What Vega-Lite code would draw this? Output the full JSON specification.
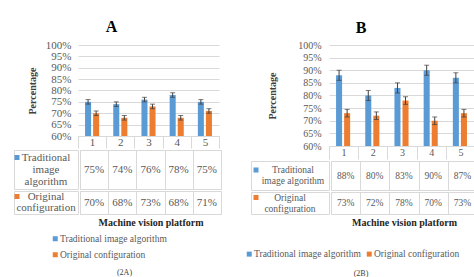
{
  "$schema": "https://vega.github.io/schema/vega-lite/v6.json",
  "padding": {"left": 13, "top": 19, "right": 0, "bottom": 0},
  "background": "#ffffff",
  "config": {
    "font": "Liberation Serif",
    "view": {"stroke": null},
    "axis": {"labelFont": "Liberation Serif", "titleFont": "Liberation Serif", "labelColor": "#595959", "titleColor": "#404040"},
    "legend": {"labelFont": "Liberation Serif", "labelColor": "#595959"},
    "title": {"font": "Liberation Serif"},
    "text": {"font": "Liberation Serif"}
  },
  "datasets": {
    "a": [
      {"platform": "1", "series": "Traditional image algorithm", "value": 0.75, "lo": 0.74, "hi": 0.76},
      {"platform": "2", "series": "Traditional image algorithm", "value": 0.74, "lo": 0.73, "hi": 0.75},
      {"platform": "3", "series": "Traditional image algorithm", "value": 0.76, "lo": 0.75, "hi": 0.77},
      {"platform": "4", "series": "Traditional image algorithm", "value": 0.78, "lo": 0.77, "hi": 0.79},
      {"platform": "5", "series": "Traditional image algorithm", "value": 0.75, "lo": 0.74, "hi": 0.76},
      {"platform": "1", "series": "Original configuration", "value": 0.70, "lo": 0.69, "hi": 0.71},
      {"platform": "2", "series": "Original configuration", "value": 0.68, "lo": 0.67, "hi": 0.69},
      {"platform": "3", "series": "Original configuration", "value": 0.73, "lo": 0.72, "hi": 0.74},
      {"platform": "4", "series": "Original configuration", "value": 0.68, "lo": 0.67, "hi": 0.69},
      {"platform": "5", "series": "Original configuration", "value": 0.71, "lo": 0.70, "hi": 0.72}
    ],
    "b": [
      {"platform": "1", "series": "Traditional image algorithm", "value": 0.88, "lo": 0.86, "hi": 0.90},
      {"platform": "2", "series": "Traditional image algorithm", "value": 0.80, "lo": 0.78, "hi": 0.82},
      {"platform": "3", "series": "Traditional image algorithm", "value": 0.83, "lo": 0.81, "hi": 0.85},
      {"platform": "4", "series": "Traditional image algorithm", "value": 0.90, "lo": 0.88, "hi": 0.92},
      {"platform": "5", "series": "Traditional image algorithm", "value": 0.87, "lo": 0.85, "hi": 0.89},
      {"platform": "1", "series": "Original configuration", "value": 0.73, "lo": 0.715, "hi": 0.745},
      {"platform": "2", "series": "Original configuration", "value": 0.72, "lo": 0.705, "hi": 0.735},
      {"platform": "3", "series": "Original configuration", "value": 0.78, "lo": 0.765, "hi": 0.795},
      {"platform": "4", "series": "Original configuration", "value": 0.70, "lo": 0.685, "hi": 0.715},
      {"platform": "5", "series": "Original configuration", "value": 0.73, "lo": 0.715, "hi": 0.745}
    ]
  },
  "spacing": 22,
  "resolve": {"scale": {"color": "independent"}},
  "hconcat": [
    {
      "spacing": 0,
      "title": {"text": "(2A)", "orient": "bottom", "anchor": "middle", "font": "Liberation Serif", "fontSize": 8, "fontWeight": "normal", "color": "#404040", "dx": 7, "offset": 9},
      "vconcat": [
        {
          "bounds": "flush",
          "spacing": 0,
          "hconcat": [
            {"width": 64, "height": 91, "data": {"values": [{}]}, "mark": "text", "encoding": {"text": {"value": ""}}},
            {
              "width": 141, "height": 91,
              "data": {"name": "a"},
              "title": {"text": "A", "font": "Liberation Serif", "fontSize": 16, "fontWeight": "bold", "color": "#000000", "frame": "group", "anchor": "middle", "dx": -37, "offset": -9, "baseline": "alphabetic"},
              "encoding": {
                "x": {"field": "platform", "type": "ordinal", "scale": {"paddingInner": 0, "paddingOuter": 0},
                      "axis": {"orient": "bottom", "title": null, "labelAngle": 0, "labelFontSize": 11, "labelBaseline": "middle", "labelPadding": -6, "tickBand": "extent", "tickSize": 12, "tickColor": "#d9d9d9", "domainColor": "#d9d9d9", "grid": false}},
                "xOffset": {"field": "series", "type": "nominal", "sort": ["Traditional image algorithm", "Original configuration"], "scale": {"paddingInner": 0.25, "paddingOuter": 0.875}}
              },
              "layer": [
                {
                  "mark": {"type": "bar"},
                  "encoding": {
                    "y": {"field": "value", "type": "quantitative", "scale": {"domain": [0.6, 1], "zero": false, "nice": false},
                          "axis": {"values": [0.6, 0.65, 0.7, 0.75, 0.8, 0.85, 0.9, 0.95, 1], "format": ".0%", "labelOverlap": false, "grid": true, "gridColor": "#d9d9d9", "domain": false, "ticks": false, "labelPadding": 7, "labelFontSize": 11, "title": "Percentage", "titleFontSize": 10, "titleFontWeight": "bold", "titlePadding": 8}},
                    "y2": {"datum": 0.6},
                    "color": {"field": "series", "type": "nominal",
                              "scale": {"domain": ["Traditional image algorithm", "Original configuration"], "range": ["#5B9BD5", "#ED7D31"]},
                              "legend": {"orient": "none", "legendX": 36.5, "legendY": 189, "direction": "vertical", "title": null, "symbolType": "square", "symbolSize": 25, "symbolStrokeWidth": 0, "labelFont": "Liberation Serif", "labelFontSize": 9.5, "labelColor": "#595959", "rowPadding": 5, "labelOffset": 0}}
                  }
                },
                {"mark": {"type": "rule", "color": "#404040", "strokeWidth": 1},
                 "encoding": {"y": {"field": "lo", "type": "quantitative", "scale": {"domain": [0.6, 1], "zero": false, "nice": false},
                                    "axis": {"values": [0.6, 0.65, 0.7, 0.75, 0.8, 0.85, 0.9, 0.95, 1], "format": ".0%", "labelOverlap": false, "grid": true, "gridColor": "#d9d9d9", "domain": false, "ticks": false, "labelPadding": 7, "labelFontSize": 11, "title": "Percentage", "titleFontSize": 10, "titleFontWeight": "bold", "titlePadding": 8}},
                              "y2": {"field": "hi"}}},
                {"mark": {"type": "tick", "color": "#404040", "thickness": 1, "size": 5},
                 "encoding": {"y": {"field": "lo", "type": "quantitative", "scale": {"domain": [0.6, 1], "zero": false, "nice": false},
                                    "axis": {"values": [0.6, 0.65, 0.7, 0.75, 0.8, 0.85, 0.9, 0.95, 1], "format": ".0%", "labelOverlap": false, "grid": true, "gridColor": "#d9d9d9", "domain": false, "ticks": false, "labelPadding": 7, "labelFontSize": 11, "title": "Percentage", "titleFontSize": 10, "titleFontWeight": "bold", "titlePadding": 8}}}},
                {"mark": {"type": "tick", "color": "#404040", "thickness": 1, "size": 5},
                 "encoding": {"y": {"field": "hi", "type": "quantitative", "scale": {"domain": [0.6, 1], "zero": false, "nice": false},
                                    "axis": {"values": [0.6, 0.65, 0.7, 0.75, 0.8, 0.85, 0.9, 0.95, 1], "format": ".0%", "labelOverlap": false, "grid": true, "gridColor": "#d9d9d9", "domain": false, "ticks": false, "labelPadding": 7, "labelFontSize": 11, "title": "Percentage", "titleFontSize": 10, "titleFontWeight": "bold", "titlePadding": 8}}}}
              ]
            }
          ]
        },
        {
          "spacing": 0,
          "hconcat": [
            {
              "width": 64, "height": 39, "view": {"stroke": "#d9d9d9"},
              "data": {"name": "a"},
              "transform": [{"filter": "datum.series === 'Traditional image algorithm' && datum.platform === '1'"}],
              "layer": [
                {"mark": {"type": "text", "font": "Liberation Serif", "lineBreak": " ", "fontSize": 11, "lineHeight": 12, "dy": -12, "color": "#595959"},
                 "encoding": {"text": {"field": "series", "type": "nominal"}}},
                {"mark": {"type": "square", "size": 25, "opacity": 1, "xOffset": -29, "yOffset": -12},
                 "encoding": {"color": {"field": "series", "type": "nominal", "scale": {"domain": ["Traditional image algorithm", "Original configuration"], "range": ["#5B9BD5", "#ED7D31"]}}}}
              ]
            },
            {
              "width": 141, "height": 39, "view": {"stroke": "#d9d9d9"},
              "data": {"name": "a"},
              "transform": [{"filter": "datum.series === 'Traditional image algorithm'"}],
              "mark": {"type": "text", "font": "Liberation Serif", "fontSize": 11, "color": "#595959"},
              "encoding": {
                "x": {"field": "platform", "type": "ordinal", "scale": {"paddingInner": 0, "paddingOuter": 0},
                      "axis": {"title": null, "labels": false, "ticks": false, "domain": false, "grid": true, "gridColor": "#d9d9d9", "tickBand": "extent"}},
                "text": {"field": "value", "type": "quantitative", "format": ".0%"}
              }
            }
          ]
        },
        {
          "spacing": 0,
          "hconcat": [
            {
              "width": 64, "height": 23, "view": {"stroke": "#d9d9d9"},
              "data": {"name": "a"},
              "transform": [{"filter": "datum.series === 'Original configuration' && datum.platform === '1'"}],
              "layer": [
                {"mark": {"type": "text", "font": "Liberation Serif", "lineBreak": " ", "fontSize": 11, "lineHeight": 11.5, "dy": -5.75, "color": "#595959"},
                 "encoding": {"text": {"field": "series", "type": "nominal"}}},
                {"mark": {"type": "square", "size": 25, "opacity": 1, "xOffset": -29, "yOffset": -6},
                 "encoding": {"color": {"field": "series", "type": "nominal", "scale": {"domain": ["Traditional image algorithm", "Original configuration"], "range": ["#5B9BD5", "#ED7D31"]}}}}
              ]
            },
            {
              "width": 141, "height": 23, "view": {"stroke": "#d9d9d9"},
              "data": {"name": "a"},
              "transform": [{"filter": "datum.series === 'Original configuration'"}],
              "mark": {"type": "text", "font": "Liberation Serif", "fontSize": 11, "color": "#595959"},
              "encoding": {
                "x": {"field": "platform", "type": "ordinal", "scale": {"paddingInner": 0, "paddingOuter": 0},
                      "axis": {"title": "Machine vision platform", "titleFontSize": 10, "titleFontWeight": "bold", "titleColor": "#262626", "titlePadding": 3, "labels": false, "ticks": false, "domain": false, "grid": true, "gridColor": "#d9d9d9", "tickBand": "extent"}},
                "text": {"field": "value", "type": "quantitative", "format": ".0%"}
              }
            }
          ]
        }
      ]
    },
    {
      "spacing": 0,
      "title": {"text": "(2B)", "orient": "bottom", "anchor": "middle", "font": "Liberation Serif", "fontSize": 8, "fontWeight": "normal", "color": "#404040", "offset": 11},
      "vconcat": [
        {
          "bounds": "flush",
          "spacing": 0,
          "hconcat": [
            {"width": 78, "height": 101, "data": {"values": [{}]}, "mark": "text", "encoding": {"text": {"value": ""}}},
            {
              "width": 146, "height": 101,
              "data": {"name": "b"},
              "title": {"text": "B", "font": "Liberation Serif", "fontSize": 16, "fontWeight": "bold", "color": "#000000", "frame": "group", "anchor": "middle", "dx": -41, "offset": -9, "baseline": "alphabetic"},
              "encoding": {
                "x": {"field": "platform", "type": "ordinal", "scale": {"paddingInner": 0, "paddingOuter": 0},
                      "axis": {"orient": "bottom", "title": null, "labelAngle": 0, "labelFontSize": 10, "labelBaseline": "middle", "labelPadding": -6.5, "tickBand": "extent", "tickSize": 13, "tickColor": "#d9d9d9", "domainColor": "#d9d9d9", "grid": false}},
                "xOffset": {"field": "series", "type": "nominal", "sort": ["Traditional image algorithm", "Original configuration"], "scale": {"paddingInner": 0.22, "paddingOuter": 0.73}}
              },
              "layer": [
                {
                  "mark": {"type": "bar"},
                  "encoding": {
                    "y": {"field": "value", "type": "quantitative", "scale": {"domain": [0.6, 1], "zero": false, "nice": false},
                          "axis": {"values": [0.6, 0.65, 0.7, 0.75, 0.8, 0.85, 0.9, 0.95, 1], "format": ".0%", "labelOverlap": false, "grid": true, "gridColor": "#d9d9d9", "domain": false, "ticks": false, "labelPadding": 8, "labelFontSize": 10, "title": "Percentage", "titleFontSize": 10, "titleFontWeight": "bold", "titlePadding": 20}},
                    "y2": {"datum": 0.6},
                    "color": {"field": "series", "type": "nominal",
                              "scale": {"domain": ["Traditional image algorithm", "Original configuration"], "range": ["#5B9BD5", "#ED7D31"]},
                              "legend": {"orient": "none", "legendX": -6.5, "legendY": 204, "direction": "horizontal", "title": null, "symbolType": "square", "symbolSize": 25, "symbolStrokeWidth": 0, "labelFont": "Liberation Serif", "labelFontSize": 9.5, "labelColor": "#595959", "columnPadding": 3, "labelOffset": 0}}
                  }
                },
                {"mark": {"type": "rule", "color": "#404040", "strokeWidth": 1},
                 "encoding": {"y": {"field": "lo", "type": "quantitative", "scale": {"domain": [0.6, 1], "zero": false, "nice": false},
                                    "axis": {"values": [0.6, 0.65, 0.7, 0.75, 0.8, 0.85, 0.9, 0.95, 1], "format": ".0%", "labelOverlap": false, "grid": true, "gridColor": "#d9d9d9", "domain": false, "ticks": false, "labelPadding": 8, "labelFontSize": 10, "title": "Percentage", "titleFontSize": 10, "titleFontWeight": "bold", "titlePadding": 20}},
                              "y2": {"field": "hi"}}},
                {"mark": {"type": "tick", "color": "#404040", "thickness": 1, "size": 5},
                 "encoding": {"y": {"field": "lo", "type": "quantitative", "scale": {"domain": [0.6, 1], "zero": false, "nice": false},
                                    "axis": {"values": [0.6, 0.65, 0.7, 0.75, 0.8, 0.85, 0.9, 0.95, 1], "format": ".0%", "labelOverlap": false, "grid": true, "gridColor": "#d9d9d9", "domain": false, "ticks": false, "labelPadding": 8, "labelFontSize": 10, "title": "Percentage", "titleFontSize": 10, "titleFontWeight": "bold", "titlePadding": 20}}}},
                {"mark": {"type": "tick", "color": "#404040", "thickness": 1, "size": 5},
                 "encoding": {"y": {"field": "hi", "type": "quantitative", "scale": {"domain": [0.6, 1], "zero": false, "nice": false},
                                    "axis": {"values": [0.6, 0.65, 0.7, 0.75, 0.8, 0.85, 0.9, 0.95, 1], "format": ".0%", "labelOverlap": false, "grid": true, "gridColor": "#d9d9d9", "domain": false, "ticks": false, "labelPadding": 8, "labelFontSize": 10, "title": "Percentage", "titleFontSize": 10, "titleFontWeight": "bold", "titlePadding": 20}}}}
              ]
            }
          ]
        },
        {
          "spacing": 0,
          "hconcat": [
            {
              "width": 78, "height": 29, "view": {"stroke": "#d9d9d9"},
              "data": {"name": "b"},
              "transform": [
                {"filter": "datum.series === 'Traditional image algorithm' && datum.platform === '1'"},
                {"calculate": "[slice(datum.series, 0, indexof(datum.series, ' ')), slice(datum.series, indexof(datum.series, ' ') + 1)]", "as": "lines"}
              ],
              "layer": [
                {"mark": {"type": "text", "font": "Liberation Serif", "fontSize": 9.5, "lineHeight": 11, "dy": -5.5, "color": "#595959", "dx": 3},
                 "encoding": {"text": {"field": "lines", "type": "nominal"}}},
                {"mark": {"type": "square", "size": 25, "opacity": 1, "xOffset": -34, "yOffset": -5.5},
                 "encoding": {"color": {"field": "series", "type": "nominal", "scale": {"domain": ["Traditional image algorithm", "Original configuration"], "range": ["#5B9BD5", "#ED7D31"]}}}}
              ]
            },
            {
              "width": 146, "height": 29, "view": {"stroke": "#d9d9d9"},
              "data": {"name": "b"},
              "transform": [{"filter": "datum.series === 'Traditional image algorithm'"}],
              "mark": {"type": "text", "font": "Liberation Serif", "fontSize": 9.5, "color": "#595959"},
              "encoding": {
                "x": {"field": "platform", "type": "ordinal", "scale": {"paddingInner": 0, "paddingOuter": 0},
                      "axis": {"title": null, "labels": false, "ticks": false, "domain": false, "grid": true, "gridColor": "#d9d9d9", "tickBand": "extent"}},
                "text": {"field": "value", "type": "quantitative", "format": ".0%"}
              }
            }
          ]
        },
        {
          "spacing": 0,
          "hconcat": [
            {
              "width": 78, "height": 22, "view": {"stroke": "#d9d9d9"},
              "data": {"name": "b"},
              "transform": [
                {"filter": "datum.series === 'Original configuration' && datum.platform === '1'"},
                {"calculate": "[slice(datum.series, 0, indexof(datum.series, ' ')), slice(datum.series, indexof(datum.series, ' ') + 1)]", "as": "lines"}
              ],
              "layer": [
                {"mark": {"type": "text", "font": "Liberation Serif", "fontSize": 9.5, "lineHeight": 11, "dy": -5.5, "color": "#595959"},
                 "encoding": {"text": {"field": "lines", "type": "nominal"}}},
                {"mark": {"type": "square", "size": 25, "opacity": 1, "xOffset": -34, "yOffset": -5.5},
                 "encoding": {"color": {"field": "series", "type": "nominal", "scale": {"domain": ["Traditional image algorithm", "Original configuration"], "range": ["#5B9BD5", "#ED7D31"]}}}}
              ]
            },
            {
              "width": 146, "height": 22, "view": {"stroke": "#d9d9d9"},
              "data": {"name": "b"},
              "transform": [{"filter": "datum.series === 'Original configuration'"}],
              "mark": {"type": "text", "font": "Liberation Serif", "fontSize": 9.5, "color": "#595959"},
              "encoding": {
                "x": {"field": "platform", "type": "ordinal", "scale": {"paddingInner": 0, "paddingOuter": 0},
                      "axis": {"title": "Machine vision platform", "titleFontSize": 10, "titleFontWeight": "bold", "titleColor": "#262626", "titlePadding": 3, "labels": false, "ticks": false, "domain": false, "grid": true, "gridColor": "#d9d9d9", "tickBand": "extent"}},
                "text": {"field": "value", "type": "quantitative", "format": ".0%"}
              }
            }
          ]
        }
      ]
    }
  ]
}
